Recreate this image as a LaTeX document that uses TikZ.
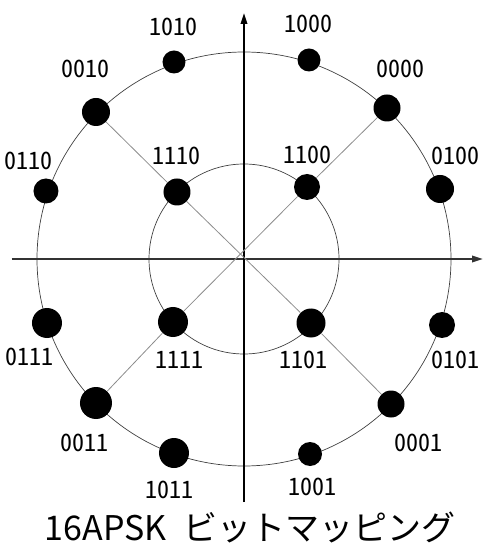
\documentclass[tikz,border=0pt]{standalone}
\usepackage{fontspec}
\usetikzlibrary{arrows.meta}
\newfontfamily\jpfont{Noto Sans CJK JP}
\newfontfamily\bitfont[RawFeature=+hwid]{Noto Sans CJK JP}

\tikzset{
  dot/.style={circle, fill=black, inner sep=0pt, minimum size=#1},
  lab/.style={font=\bitfont\fontsize{12}{12}\selectfont, inner sep=0pt},
  ring/.style={draw=black!75, line width=0.35pt},
  spoke/.style={draw=black!45, line width=0.4pt},
  axis/.style={line width=1pt, -{Triangle[length=5.5pt,width=3.2pt]}}
}

\begin{document}
\begin{tikzpicture}[x=0.5pt, y=0.5pt]
      \useasboundingbox (-244,-297) rectangle (256,259);
      % rings
      \draw[ring] (0,0) circle (207);
      \draw[ring] (0,0) circle (95);
      % axes
      \coordinate (xl) at (-232,0);
      \coordinate (xr) at (239,0);
      \coordinate (yb) at (0,-243);
      \coordinate (yt) at (0,246);
      \draw[axis, draw=black!80, fill=black!80] (xl) -- (xr);
      \draw[axis] (yb) -- (yt);
      % points and bit labels
      \foreach \bits/\x/\y/\d/\lx/\ly in {
          1010/-70/197/11.5/-70/232,
          0010/-148/147/14/-158/190,
          0110/-198/68/12.5/-215/98,
          1110/-67/67/13.5/-67/103,
          1000/65/199/11.5/64/235,
          0000/143/151/13.5/156/190,
          1100/63/72/13/63/104,
          0100/196/70/14/211/103,
          0111/-197/-64/15/-214/-98,
          1111/-71/-63/15/-64/-101,
          0011/-148/-144/16/-159/-184,
          1011/-70/-194/15/-74/-231,
          1101/67/-64/14.5/59/-101,
          0101/198/-66/13/211/-101,
          0001/147/-145/13.5/174/-184,
          1001/66/-195/12/68/-228}{
        \node[dot=\d pt] (p\bits) at (\x,\y) {};
        \node[lab] (l\bits) at (\lx,\ly) {\bits};
      }
      % diagonals
      \draw[spoke] (p0010) -- (p1110) -- (p1101) -- (p0001);
      \draw[spoke] (p0000) -- (p1100) -- (p1111) -- (p0011);
      % caption
      \node[font=\jpfont\fontsize{17}{17}\selectfont, inner sep=0pt] (title) at (6,-268) {16APSK\hspace{0.5em}ビットマッピング};
    \end{tikzpicture}
\end{document}
